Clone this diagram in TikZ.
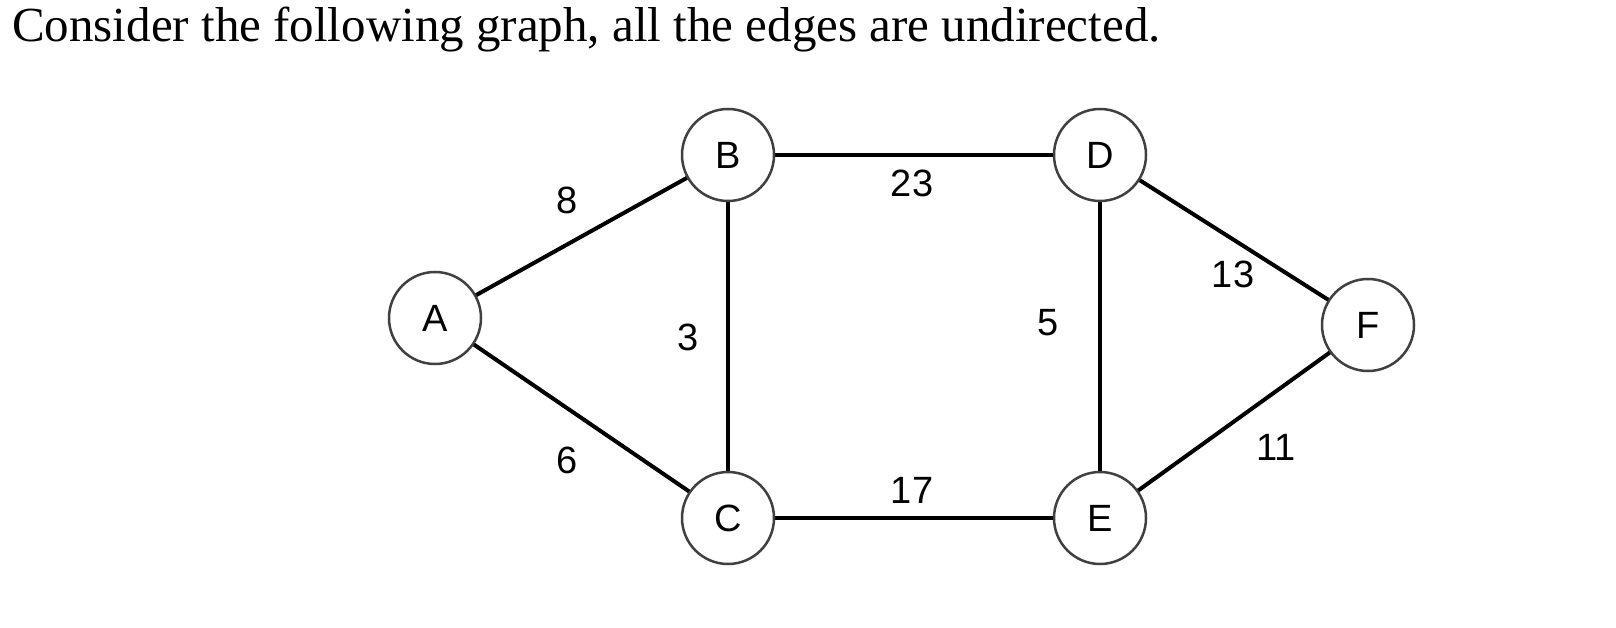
\documentclass[tikz,border=0pt]{standalone}
\usepackage{fontspec}
\usetikzlibrary{backgrounds}
\newfontfamily\lsans{Liberation Sans}
\newfontfamily\lserif{Liberation Serif}
\begin{document}
\begin{tikzpicture}[x=1pt,y=-1pt,
  vtx/.style={circle,draw=black!75,line width=2.5pt,fill=white,minimum size=92pt,inner sep=0pt,font=\lsans\fontsize{38}{40}\selectfont},
  edge/.style={line width=4pt},
  wt/.style={font=\lsans\fontsize{38}{40}\selectfont}]
\useasboundingbox (0,0) rectangle (1616,628);
\node[anchor=base west,inner sep=0pt,font=\lserif\fontsize{49}{54}\selectfont] (title) at (12,42) {Consider the following graph, all the edges are undirected.};
\node[vtx] (A) at (435,318) {A};
\node[vtx] (B) at (728,155) {B};
\node[vtx] (C) at (728,518) {C};
\node[vtx] (D) at (1100,155) {D};
\node[vtx] (E) at (1100,518) {E};
\node[vtx] (F) at (1368,325) {F};
\begin{scope}[on background layer]
\draw[edge] (A.center) -- (B.center);
\draw[edge] (A.center) -- (C.center);
\draw[edge] (B.center) -- (D.center);
\draw[edge] (B.center) -- (C.center);
\draw[edge] (C.center) -- (E.center);
\draw[edge] (D.center) -- (E.center);
\draw[edge] (D.center) -- (F.center);
\draw[edge] (E.center) -- (F.center);
\end{scope}
\node[wt] (w8) at (567,200) {8};
\node[wt] (w23) at (912,183) {23};
\node[wt] (w3) at (688,337) {3};
\node[wt] (w5) at (1048,323) {5};
\node[wt] (w13) at (1233,274) {13};
\node[wt] (w6) at (567,460) {6};
\node[wt] (w17) at (912,490) {17};
\node[wt] (w11) at (1276,447) {11};
\end{tikzpicture}
\end{document}
